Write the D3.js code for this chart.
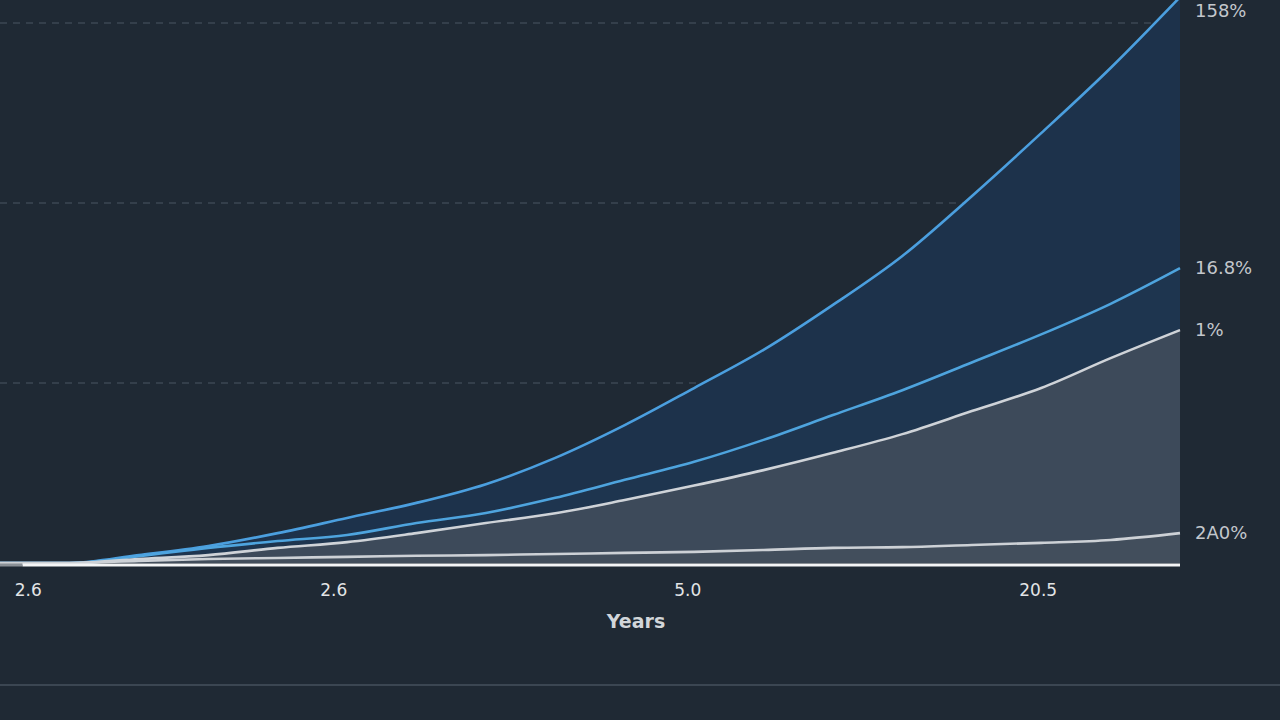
<!DOCTYPE html>
<html>
<head>
<meta charset="utf-8">
<script src="https://cdn.jsdelivr.net/npm/d3@7"></script>
<style>
html,body{margin:0;padding:0;background:#1f2934;}
svg{display:block;}
</style>
</head>
<body>
<svg id="chart" width="1280" height="720"></svg>
<script>
// ---- data ----
const years = [0,2,4,6,8,10,12,14,16,18,20,22,24,26,28,30,32,34];
const seriesA = [0,0,2.2,4.7,8.3,12.5,16.7,21.9,29.2,38.3,48.6,59.2,71.7,85.3,101.9,119.4,137.5,157.2];
const seriesB = [0,0,1.9,4.2,6.1,7.8,11.1,13.9,18.1,23.1,28.1,34.2,41.1,48.0,55.7,63.5,72.0,81.9];
const seriesC = [0,0,1.1,2.2,4.2,5.8,8.3,11.1,13.8,17.5,21.5,25.8,30.6,35.8,42.2,48.6,56.9,64.7];
const seriesD = [0,0,0.6,1.1,1.4,1.7,2.0,2.2,2.5,2.8,3.1,3.6,4.2,4.4,5.0,5.6,6.4,8.3];
const xTickValues = [0.8, 9.6, 19.8, 29.9];
const xTickLabels = ["2.6", "2.6", "5.0", "20.5"];
const gridValues = [50, 100, 150];
const endLabels = ["158%", "16.8%", "1%", "2A0%"];
const xTitle = "Years";

// ---- layout ----
const svg = d3.select("#chart");
const W = 1280, H = 720;
const x = d3.scaleLinear().domain([0, 34]).range([0, 1180]);
const y = d3.scaleLinear().domain([0, 150]).range([563, 23]);

svg.append("rect").attr("width", W).attr("height", H).attr("fill", "#1f2934");

// grid
svg.append("g").selectAll("line").data(gridValues).join("line")
  .attr("x1", 0).attr("x2", x(34))
  .attr("y1", d => y(d)).attr("y2", d => y(d))
  .attr("stroke", "#4a5663").attr("stroke-width", 1.2)
  .attr("stroke-dasharray", "7,6");

const seriesList = [
  {vals: seriesA, fill: "#1d324b", stroke: "#4b9fdf", w: 2.6},
  {vals: seriesB, fill: "#1e354f", stroke: "#4ea4de", w: 2.6},
  {vals: seriesC, fill: "#3d4a5a", stroke: "#cfd3d8", w: 2.6},
  {vals: seriesD, fill: "#424e5c", stroke: "#cdd1d6", w: 2.6}
];

const area = d3.area().x((d,i) => x(years[i])).y0(y(0)).y1(d => y(d)).curve(d3.curveMonotoneX);
const line = d3.line().x((d,i) => x(years[i])).y(d => y(d)).curve(d3.curveMonotoneX);

const gA = svg.append("g");
seriesList.forEach(s => {
  gA.append("path").attr("d", area(s.vals)).attr("fill", s.fill);
});
seriesList.forEach(s => {
  gA.append("path").attr("d", line(s.vals)).attr("fill", "none")
    .attr("stroke", s.stroke).attr("stroke-width", s.w).attr("stroke-linejoin", "round");
});

// baseline
svg.append("line").attr("x1", 0).attr("x2", x(0.65)).attr("y1", y(0)+2).attr("y2", y(0)+2)
  .attr("stroke", "#8a9096").attr("stroke-width", 3);
svg.append("line").attr("x1", x(0.65)).attr("x2", x(34)).attr("y1", y(0)+2).attr("y2", y(0)+2)
  .attr("stroke", "#f4f5f6").attr("stroke-width", 3);

// x axis labels
const xAxis = d3.axisBottom(x).tickValues(xTickValues)
  .tickFormat((d,i) => xTickLabels[i]).tickSize(0).tickPadding(0);
const gx = svg.append("g").attr("transform", "translate(0,580)").call(xAxis);
gx.select(".domain").remove();
gx.selectAll("text").attr("fill", "#e2e4e6").attr("font-size", 17)
  .attr("font-family", "DejaVu Sans, sans-serif").attr("dy", "0.95em");

svg.append("text").attr("x", 636).attr("y", 628).attr("text-anchor", "middle")
  .attr("fill", "#d2d6da").attr("font-size", 19).attr("font-weight", "bold")
  .attr("font-family", "DejaVu Sans, sans-serif").text(xTitle);

// end labels (kept inside the picture)
svg.append("g").selectAll("text").data(seriesList).join("text")
  .attr("x", 1195).attr("y", d => Math.max(y(d.vals[d.vals.length-1]), 11))
  .attr("dy", "0.35em")
  .attr("fill", "#c3c7cc").attr("font-size", 18)
  .attr("font-family", "DejaVu Sans, sans-serif")
  .text((d,i) => endLabels[i]);

// bottom rule
svg.append("line").attr("x1", 0).attr("x2", W).attr("y1", 685).attr("y2", 685)
  .attr("stroke", "#3b4652").attr("stroke-width", 2);
</script>
</body>
</html>
